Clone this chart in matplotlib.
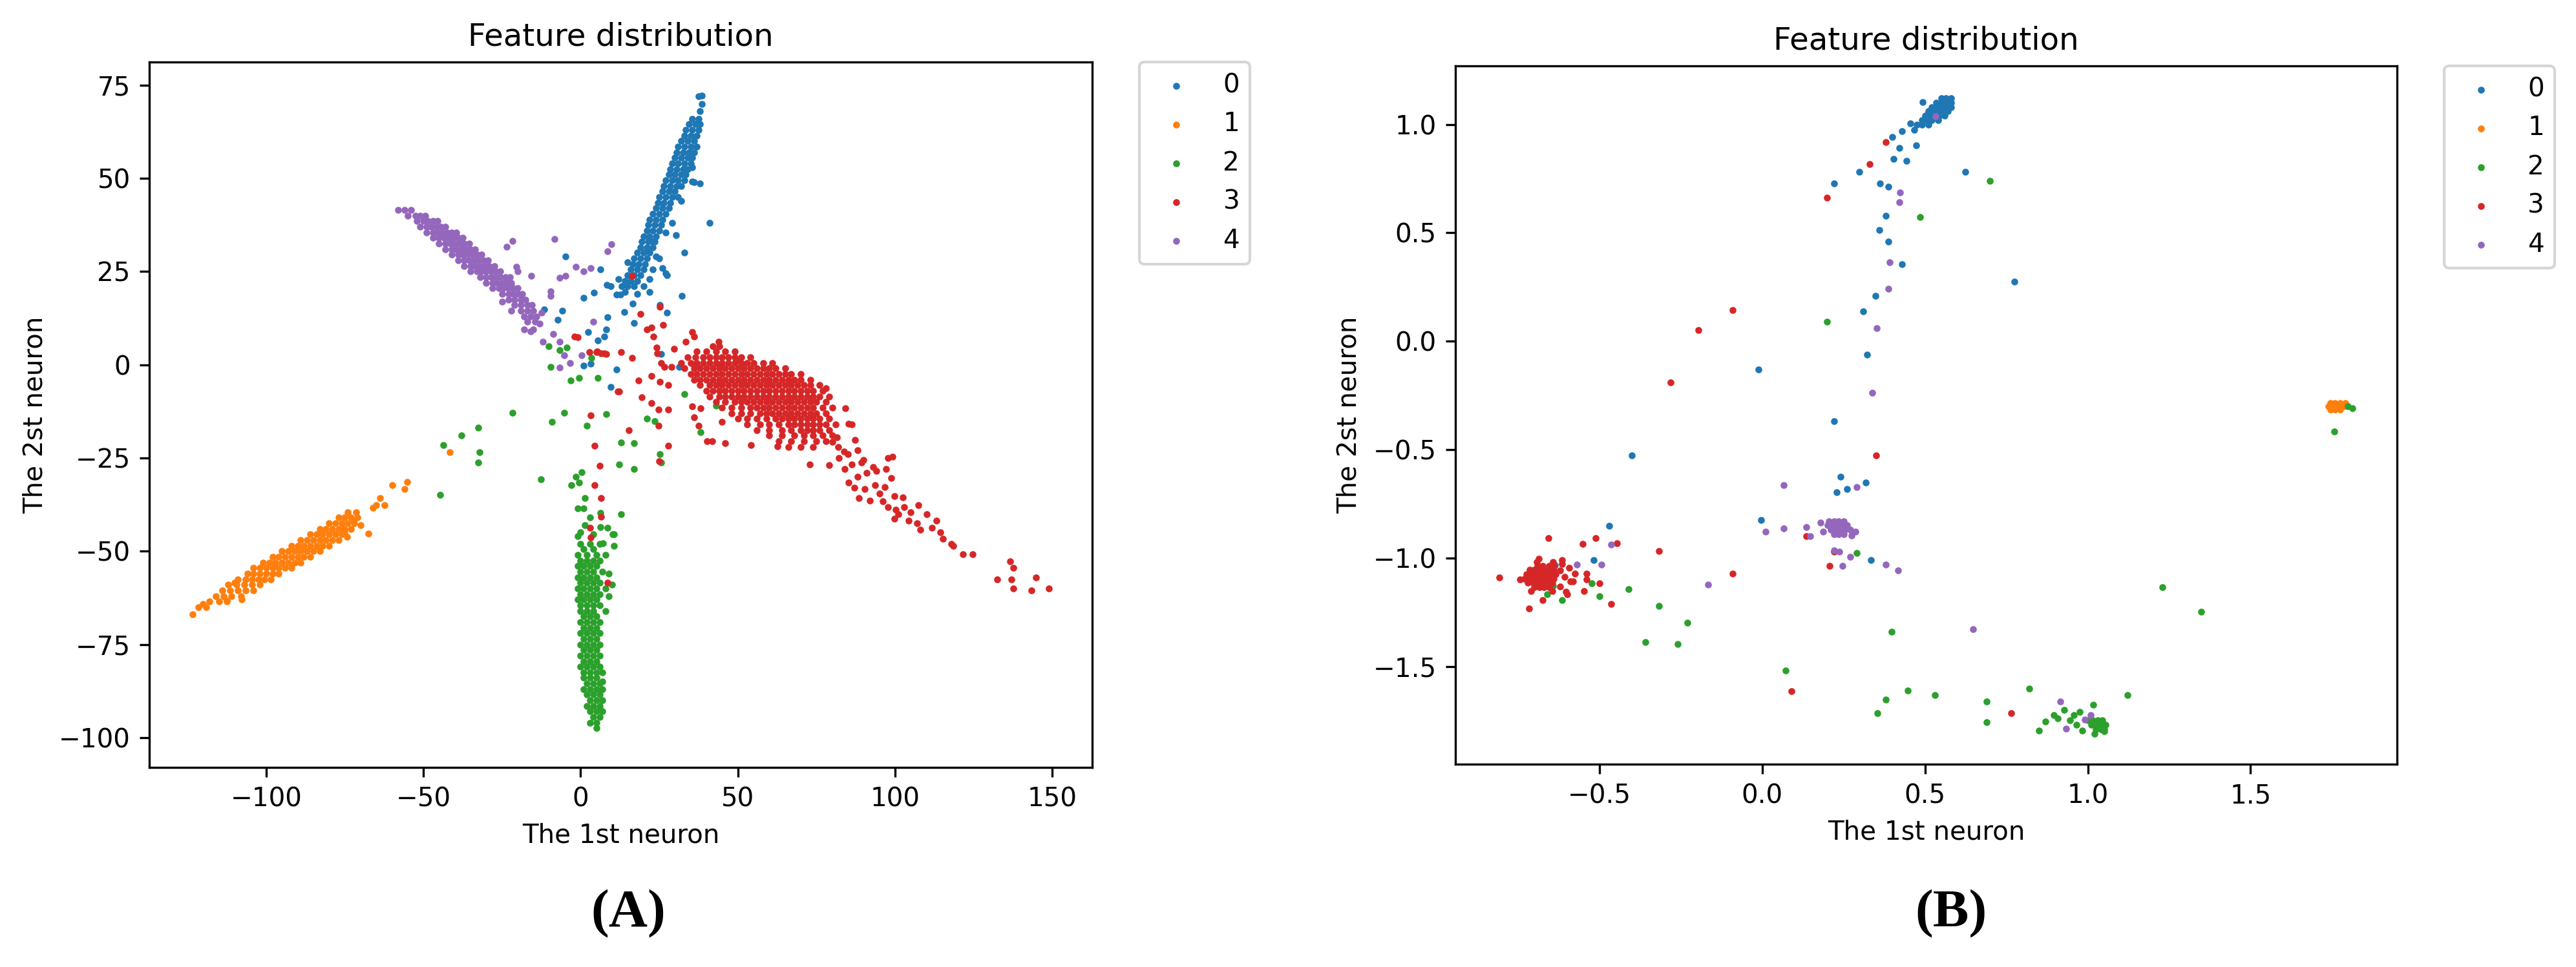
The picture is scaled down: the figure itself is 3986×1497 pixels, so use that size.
import matplotlib
matplotlib.use("Agg")
import matplotlib.pyplot as plt
import numpy as np

labels = ["0", "1", "2", "3", "4"]

# ---------------- panel (A) ----------------
# dense cores are written as rows: (y, [x, x, ...]); loose points as (x, y)
a0_core = [(72, [37.5]), (70, [38.5]), (68, [38]), (66, [35.5, 37.5]),
           (64.5, [34.5, 36.5, 38]), (63, [33.5, 35.5, 37.5]), (61.5, [33, 35, 37]),
           (60, [32, 34, 36]), (58.5, [31, 33, 35, 37]), (57, [30.5, 32.5, 34.5, 36]),
           (55.5, [30, 32, 34, 35.5]), (54, [29, 31, 33, 35]), (52.5, [28.5, 30.5, 32.5, 34]),
           (51, [28, 30, 32, 33.5]), (49.5, [27, 29, 31, 33]), (48, [26.5, 28.5, 30.5, 32]),
           (46.5, [26, 28, 30]), (45, [25, 27, 29, 31]), (43.5, [24.5, 26.5, 28.5]),
           (42, [24, 26, 28]), (40.5, [23, 25, 27]), (39, [22, 24, 26]),
           (37.5, [21.5, 23.5, 25.5]), (36, [21, 23, 25]), (34.5, [20, 22, 24]),
           (33, [19.5, 21.5, 23.5]), (31.5, [19, 21, 23]), (30, [18, 20, 22]),
           (28.5, [17, 19, 21]), (27, [16.5, 18.5, 20.5]), (25.5, [16, 18, 20]),
           (24, [15, 17, 19]), (22.5, [14, 16, 18]), (21, [13, 15, 17])]
a0_extra = [(38.6, 72.1), (36, 49), (38, 48.6), (35.5, 49.2), (41, 38), (30.4, 34.8),
            (27, 24.5), (27.5, 24), (32.2, 18.5), (25.2, 16), (27.5, 13.9), (16.6, 16.4),
            (13.8, 14.2), (16.9, 11.2), (8.6, 12.7), (8.1, 9.4), (7.6, 7.6), (5.5, 6.6),
            (2.4, 8.8), (4.3, 19.4), (0.85, 17.9), (8.4, 21.5), (9.6, 21.1), (11.5, 18.8),
            (12.6, 18.8), (25.5, 2.8), (31.4, -0.6), (11.5, -1.2), (9.6, -6.0), (0.85, -0.2),
            (-4.8, 29.1), (6.2, 25.5), (-11.5, 14.8), (-5.8, 14.5), (-7.2, 12.1), (3.1, 0.2),
            (12, 23), (14, 19.5), (18, 19), (20, 21), (22, 23), (23, 25.5), (15, 27.5),
            (24, 29), (33, 30), (22, 19.5), (26, 26), (25, 28.5), (29, 38), (32, 44),
            (23, 33), (35.5, 53), (27, 35.5)]

a1_core = [(-67, [-123.5]), (-65, [-121.5, -119]), (-63.5, [-118, -115, -112.5]),
           (-62, [-116, -113.5, -111, -108]), (-60.5, [-114, -111.5, -109, -106.5, -104]),
           (-59, [-112, -109.5, -107, -104.5, -102]),
           (-57.5, [-109, -106.5, -104.5, -102.5, -100.5, -98.5]),
           (-56, [-106, -104, -102, -100, -98, -96]),
           (-54.5, [-104, -102, -100, -98, -96, -94, -92]),
           (-53, [-101, -99, -97, -95, -93, -91, -89]),
           (-51.5, [-98, -96, -94, -92, -90, -88, -86]),
           (-50, [-95, -93, -91, -89, -87, -85, -83]),
           (-48.5, [-92, -90, -88, -86, -84, -82, -80]),
           (-47, [-89, -87, -85, -83, -81, -79, -77]),
           (-45.5, [-86, -84, -82, -80, -78, -76]),
           (-44, [-83, -81, -79, -77, -75, -73]),
           (-42.5, [-80, -78, -76, -74, -72]), (-41, [-77, -75, -73, -71]),
           (-39.5, [-74, -71.5])]
a1_extra = [(-41.7, -23.5), (-55.1, -31.4), (-56, -33.4), (-59.9, -32.2), (-62.3, -37.6),
            (-63.7, -35.8), (-65.1, -37.6), (-66.1, -38.3), (-67.5, -45.2), (-69.9, -43.1),
            (-120.2, -64.2), (-112.5, -63.3), (-107.7, -63), (-110.1, -58.5), (-72.3, -41.9),
            (-75.2, -44.9), (-74.2, -46.1)]

a2_core = [(-48, [0, 3, 6]), (-49.5, [1, 4]), (-51, [-1, 2, 5, 8]),
           (-52.5, [0, 2, 4, 6]), (-54, [-1, 1, 3, 5]), (-55.5, [0, 2, 4, 7]),
           (-57, [-1, 1, 3, 5]), (-58.5, [0, 2, 4, 6]), (-60, [-1, 1, 3, 5, 8]),
           (-61.5, [0, 2, 4, 6]), (-63, [-1, 1, 3, 5]), (-64.5, [0, 2, 4, 6]),
           (-66, [0, 2, 4]), (-67.5, [1, 3, 5]), (-69, [0, 2, 4, 6]), (-70.5, [1, 3, 5]),
           (-72, [0, 2, 4, 6]), (-73.5, [1, 3, 5]), (-75, [0, 2, 4, 6]), (-76.5, [1, 3, 5]),
           (-78, [0, 2, 4, 6]), (-79.5, [1, 3, 5]), (-81, [0, 2, 4, 6]), (-82.5, [1, 3, 5, 7]),
           (-84, [1, 3, 5]), (-85.5, [2, 4, 6]), (-87, [1, 3, 5, 7]), (-88.5, [2, 4, 6]),
           (-90, [3, 5, 7]), (-91.5, [2, 4, 6]), (-93, [3, 5, 7]), (-94.5, [4, 6]),
           (-96, [3, 5]), (-97.5, [5])]
a2_extra = [(0.4, -28.8), (-1.5, -30.1), (-2.9, -32.2), (-0.5, -31.6), (1.4, -35.8),
            (-1, -38.5), (0.9, -38.5), (6.2, -39.8), (1.4, -43.1), (-0.1, -44.9), (6.2, -43.6),
            (8.6, -43.7), (10.5, -45.5), (12.8, -40), (7.1, -47.9), (10.7, -48.5), (10.2, -45.5),
            (16.9, -28), (12.2, -26.8), (25.2, -24), (25.7, -26.2), (16.9, -21.1), (12.8, -20.8),
            (8.1, -13.3), (1.9, -16.3), (5.5, -3.6), (3.4, 1.8), (33, -7.8), (43.1, -10.9),
            (38.1, -18.1), (21, -14.5), (23.6, -15.1), (-21.6, -12.9), (-9.1, -15.3),
            (-5.3, -12.9), (-12.7, -30.8), (-38.0, -19), (-32.6, -16.9), (-43.6, -21.6),
            (-32.1, -23.5), (-32.6, -26.2), (-44.7, -34.9), (-9.6, -0.6), (-6.7, 4.0),
            (-4.4, 4.6), (-10.1, 4.9), (-3.1, -4.2), (-0.5, -3.6), (9, -62), (10, -59),
            (8, -66), (7, -85), (9, -56), (3, -41), (-1, -46), (4, -45.5)]

a3_core = [(5, [42, 44]), (3.5, [37, 40, 43, 46, 49]),
           (2, [34, 36.5, 39, 41, 43, 45, 47, 49, 51, 54]),
           (0.5, [32, 35, 37, 39, 41, 43, 45, 47, 49, 51, 53, 55, 58, 61]),
           (-1, [33, 36, 38, 40, 42, 44, 46, 48, 50, 52, 54, 56, 58, 60, 62, 65]),
           (-2.5, [35, 37, 39, 41, 43, 45, 47, 49, 51, 53, 55, 57, 59, 61, 63, 65, 67, 70]),
           (-4, [36, 38, 40, 42, 44, 46, 48, 50, 52, 54, 56, 58, 60, 62, 64, 66, 68, 70, 73]),
           (-5.5, [38, 41, 43, 45, 47, 49, 51, 53, 55, 57, 59, 61, 63, 65, 67, 69, 71, 73, 76]),
           (-7, [40, 42, 44, 46, 48, 50, 52, 54, 56, 58, 60, 62, 64, 66, 68, 70, 72, 74, 77]),
           (-8.5, [41, 44, 46, 48, 50, 52, 54, 56, 58, 60, 62, 64, 66, 68, 70, 72, 74, 76, 79]),
           (-10, [43, 46, 49, 51, 53, 55, 57, 59, 61, 63, 65, 67, 69, 71, 73, 75, 78]),
           (-11.5, [45, 48, 51, 54, 56, 58, 60, 62, 64, 66, 68, 70, 72, 74, 77, 80]),
           (-13, [48, 51, 54, 57, 59, 61, 63, 65, 67, 69, 71, 73, 75, 78]),
           (-14.5, [50, 53, 56, 59, 62, 64, 66, 68, 70, 72, 74, 76, 79]),
           (-16, [53, 57, 60, 63, 66, 68, 70, 72, 74, 76, 78, 81]),
           (-17.5, [56, 60, 64, 67, 70, 72, 74, 76, 79]),
           (-19, [60, 64, 68, 71, 74, 77, 80]), (-20.5, [63, 67, 71, 75, 78]),
           (-22, [66, 70, 74])]
a3_extra = [(16.4, 23.9), (25.2, 15.5), (19, 13.6), (21, 9.4), (22.6, 10), (23.1, 7.6),
            (26.2, 10.6), (29.8, 4.3), (33.5, 6.2), (35.5, 8.8), (36.1, 7.6), (24.2, 4.6),
            (24.4, 3.0), (25.7, 0.4), (16.4, 1.9), (12.8, 3.4), (6.5, 3.0), (8.1, 2.8), (5, 3.4),
            (26.7, -0.6), (28.8, -0.6), (18.5, -4.2), (22.6, -3), (25.2, -4.5), (27.8, -5.4),
            (12.2, -7.2), (19.5, -8.7), (22.6, -10.3), (24.7, -12.1), (27.8, -12.1),
            (24.7, -16.3), (27.8, -21.7), (25, -25.9), (15.3, -17.5), (4.5, -21.7), (6, -27.1),
            (4.5, -32.2), (6.5, -35.8), (2.9, -43.7), (6.5, -40.7), (8.6, -58.5), (44.9, -15.3),
            (45.9, -21.1), (41.8, -20.5), (40.2, -20.5), (36.1, -14.1), (37.6, -16.3),
            (35.5, -11.1), (38.1, -11.7), (-1, 7.4), (-2, 7.6), (2.8, 3.4), (5.2, 3.6),
            (7.6, 3.0), (11.9, -7.2), (3.1, -13.5), (3.1, -46.4), (54.2, -21.6), (62.5, -21.9),
            (72.8, -26.7), (79, -27), (85.3, -15.9), (87.3, -20.1), (84.2, -11.7), (86.3, -16),
            (80.1, -20.7), (81.6, -19.5), (83.7, -23.2), (78, -6.3), (43.8, 6.2), (50, 1.3),
            (82.2, -25), (86.3, -26.8), (89.4, -26.2), (85.3, -31.6), (88.4, -35.8),
            (90.4, -33.4), (93.6, -32.2), (97.7, -25), (99.2, -24.7), (97.2, -28), (98.7, -30.4),
            (96.7, -32.8), (99.8, -35.2), (102.4, -35.6), (97.7, -38.2), (100.3, -38.8),
            (102.9, -38.2), (99.8, -41.3), (104.4, -41.9), (107, -42.5), (108.1, -44.3),
            (107.5, -37.6), (110.1, -40), (113.2, -41.9), (111.7, -43.7), (114.3, -44.9),
            (115.3, -46.7), (117.9, -48.1), (118.4, -48.5), (121.5, -50.9), (124.6, -50.9),
            (136.5, -52.7), (137.6, -54.5), (132.4, -57.5), (137, -57.5), (137.6, -60),
            (144.8, -57), (143.3, -60.6), (149, -60), (91, -29), (94, -28.5), (84, -28),
            (88, -30), (92, -36.5), (95, -34.5), (82, -22), (85, -24), (88, -23), (90, -25.5),
            (93, -27.5), (87, -33), (96, -36.7), (101, -40), (105, -39.5)]

a4_core = [(41.5, [-58, -56, -54]), (40, [-55, -52.5, -51, -49.5]),
           (38.5, [-52, -50, -48.5, -47, -45.5]), (37, [-51, -49, -47.5, -46, -44.5, -43]),
           (35.5, [-49, -47, -45.5, -44, -42.5, -41, -39.5]),
           (34, [-47, -45, -43.5, -42, -40.5, -39, -37.5]),
           (32.5, [-45, -43, -41.5, -40, -38.5, -37, -35.5]),
           (31, [-43, -41, -39.5, -38, -36.5, -35, -33.5]),
           (29.5, [-41, -39, -37.5, -36, -34.5, -33, -31.5]),
           (28, [-39, -37, -35.5, -34, -32.5, -31, -29.5]),
           (26.5, [-37, -35, -33.5, -32, -30.5, -29, -27.5]),
           (25, [-35, -33, -31.5, -30, -28.5, -27, -25.5]),
           (23.5, [-32, -30, -28.5, -27, -25.5, -24, -22.5]),
           (22, [-30, -28, -26.5, -25, -23.5, -22]), (20.5, [-28, -26, -24.5, -23, -21.5, -20]),
           (19, [-25, -23, -21.5, -20, -18.5]), (17.5, [-23, -21, -19, -17.5]),
           (16, [-21, -19, -17, -15.5]), (14.5, [-19, -17, -15]), (13, [-18, -16, -14]),
           (11.5, [-17, -14.5]), (9.5, [-18, -15])]
a4_extra = [(-23.5, 31.7), (-21.6, 33.2), (-20.4, 26.3), (-20.1, 25.1), (-15.8, 23.9),
            (-8.4, 33.8), (-9.6, 19.7), (-9.6, 18.5), (-6.7, 23.3), (-4.8, 23.9), (-1.5, 26.3),
            (0.9, 25.1), (3.3, 25.9), (4.1, 11.5), (8.6, 30.5), (9.7, 32.3), (-12, 6.2),
            (-8.7, 8.2), (-6.7, 6.2), (-5.3, 2.5), (-6.7, -0.8), (-3.4, 0.4), (0.4, 2.5),
            (-13, 11), (-16, 9), (-12.5, 14), (-22, 14.5), (-25, 17)]

# ---------------- panel (B) ----------------
b0_core = [(1.12, [0.55, 0.565, 0.58]), (1.10, [0.535, 0.55, 0.565, 0.58]),
           (1.08, [0.52, 0.535, 0.55, 0.565, 0.58]), (1.06, [0.51, 0.525, 0.54, 0.555, 0.57]),
           (1.04, [0.50, 0.515, 0.53, 0.545, 0.56]), (1.02, [0.49, 0.505, 0.52, 0.54]),
           (1.00, [0.475, 0.49, 0.51])]
b0_extra = [(0.493, 1.104), (0.455, 1.004), (0.467, 0.976), (0.400, 0.941), (0.430, 0.970),
            (0.422, 0.890), (0.473, 0.904), (0.404, 0.842), (0.442, 0.833), (0.362, 0.728),
            (0.387, 0.714), (0.299, 0.782), (0.221, 0.728), (0.623, 0.782), (0.379, 0.578),
            (0.359, 0.512), (0.387, 0.458), (0.430, 0.356), (0.774, 0.276), (0.347, 0.208),
            (0.309, 0.137), (0.322, -0.062), (-0.011, -0.130), (0.221, -0.369),
            (-0.401, -0.526), (0.241, -0.625), (0.229, -0.696), (0.261, -0.682),
            (0.317, -0.653), (-0.004, -0.826), (-0.471, -0.853), (-0.518, -1.010),
            (0.334, -1.009), (-0.636, -1.033)]

b1_core = [(-0.285, [1.745, 1.76, 1.775, 1.79]), (-0.30, [1.74, 1.755, 1.77, 1.785]),
           (-0.315, [1.745, 1.76, 1.775])]
b1_extra = []

b2_core = [(-1.75, [1.00, 1.015, 1.03, 1.045]), (-1.77, [1.01, 1.025, 1.04, 1.055]),
           (-1.79, [1.025, 1.04, 1.05])]
b2_extra = [(-0.661, -1.169), (-0.643, -1.128), (-0.616, -1.195), (-0.523, -1.118),
            (-0.500, -1.177), (-0.411, -1.144), (-0.318, -1.222), (-0.230, -1.299),
            (-0.360, -1.388), (-0.260, -1.396), (0.072, -1.518), (0.699, 0.740), (0.485, 0.572),
            (0.198, 0.089), (1.758, -0.417), (1.813, -0.309), (1.798, -0.300), (1.230, -1.134),
            (1.348, -1.247), (0.397, -1.341), (0.379, -1.654), (0.447, -1.611), (0.530, -1.631),
            (0.354, -1.717), (0.689, -1.663), (0.689, -1.759), (0.820, -1.603), (1.121, -1.631),
            (0.291, -0.978), (0.850, -1.796), (0.870, -1.754), (0.895, -1.725), (0.908, -1.740),
            (0.928, -1.702), (0.946, -1.748), (0.966, -1.768), (0.976, -1.711), (1.016, -1.677),
            (0.983, -1.796), (1.021, -1.810), (0.958, -1.725), (1.05, -1.80)]

b3_core = [(-1.035, [-0.69, -0.675, -0.655, -0.64]),
           (-1.055, [-0.715, -0.70, -0.685, -0.67, -0.655, -0.64]),
           (-1.075, [-0.725, -0.71, -0.695, -0.68, -0.665, -0.65, -0.635]),
           (-1.095, [-0.73, -0.715, -0.70, -0.685, -0.67, -0.655, -0.64]),
           (-1.115, [-0.72, -0.705, -0.69, -0.675, -0.66, -0.645]),
           (-1.135, [-0.70, -0.685, -0.67, -0.655])]
b3_extra = [(-0.808, -1.091), (-0.745, -1.100), (-0.657, -0.907), (-0.687, -1.003),
            (-0.693, -1.020), (-0.643, -1.018), (-0.615, -1.010), (-0.616, -1.028),
            (-0.594, -1.046), (-0.621, -1.056), (-0.576, -1.073), (-0.540, -1.073),
            (-0.540, -1.100), (-0.608, -1.088), (-0.590, -1.108), (-0.581, -1.108),
            (-0.622, -1.133), (-0.604, -1.157), (-0.599, -1.169), (-0.645, -1.152),
            (-0.711, -1.152), (-0.675, -1.195), (-0.716, -1.232), (-0.548, -1.152),
            (-0.500, -1.118), (-0.552, -0.934), (-0.512, -0.907), (-0.447, -0.933),
            (-0.465, -1.212), (-0.318, -0.969), (-0.092, -1.073), (0.089, -1.614),
            (0.135, -0.899), (0.379, 0.919), (0.329, 0.816), (0.198, 0.663), (-0.091, 0.145),
            (-0.197, 0.052), (-0.282, -0.190), (0.349, -0.526), (0.221, -0.972),
            (0.206, -1.037), (0.764, -1.717)]

b4_core = [(-0.83, [0.205, 0.22, 0.235, 0.25]), (-0.85, [0.20, 0.215, 0.23, 0.245, 0.26]),
           (-0.87, [0.21, 0.225, 0.24, 0.255, 0.27]), (-0.89, [0.22, 0.235, 0.25])]
b4_extra = [(0.424, 0.685), (0.422, 0.640), (0.392, 0.364), (0.387, 0.242), (0.352, 0.060),
            (0.337, -0.238), (0.065, -0.665), (0.010, -0.878), (0.065, -0.864), (0.135, -0.858),
            (0.178, -0.838), (0.186, -0.878), (0.286, -0.878), (0.274, -0.895), (0.291, -0.674),
            (0.236, -0.972), (0.221, -0.966), (0.271, -0.995), (0.246, -1.037), (0.379, -1.029),
            (0.417, -1.057), (-0.167, -1.122), (-0.464, -0.938), (-0.494, -1.029),
            (-0.569, -1.029), (0.648, -1.327), (0.915, -1.663), (0.933, -1.788), (0.991, -1.745),
            (1.008, -1.725), (0.533, 1.038), (0.147, -0.899)]


def cloud(core, extra):
    pts = [(x, y) for y, xs in core for x in xs] + list(extra)
    arr = np.array(pts, dtype=float)
    return arr[:, 0], arr[:, 1]


def draw_panel(ax, groups, xlim, ylim, xticks, yticks):
    for lab, (core, extra) in zip(labels, groups):
        x, y = cloud(core, extra)
        ax.scatter(x, y, s=6.5, linewidths=0, label=lab)
    ax.set_xlim(*xlim)
    ax.set_ylim(*ylim)
    ax.set_xticks(xticks)
    ax.set_yticks(yticks)
    ax.tick_params(labelsize=9.7)
    ax.set_title("Feature distribution", fontsize=11.6)
    ax.set_xlabel("The 1st neuron", fontsize=9.7)
    ax.set_ylabel("The 2st neuron", fontsize=9.7)
    ax.legend(bbox_to_anchor=(1.05, 1), loc="upper left", borderaxespad=0, fontsize=9.7)


fig = plt.figure(figsize=(3987 / 300, 1497 / 300), dpi=300)
axA = fig.add_axes([0.0579, 0.2064, 0.3660, 0.7295])
axB = fig.add_axes([0.5648, 0.2098, 0.3655, 0.7221])

draw_panel(axA,
           [(a0_core, a0_extra), (a1_core, a1_extra), (a2_core, a2_extra),
            (a3_core, a3_extra), (a4_core, a4_extra)],
           (-137.2, 162.7), (-108.0, 81.2),
           [-100, -50, 0, 50, 100, 150], [-100, -75, -50, -25, 0, 25, 50, 75])
draw_panel(axB,
           [(b0_core, b0_extra), (b1_core, b1_extra), (b2_core, b2_extra),
            (b3_core, b3_extra), (b4_core, b4_extra)],
           (-0.943, 1.95), (-1.951, 1.27),
           [-0.5, 0.0, 0.5, 1.0, 1.5], [-1.5, -1.0, -0.5, 0.0, 0.5, 1.0])

fig.text(0.2438, 0.0548, "(A)", ha="center", va="center", fontsize=20,
         family="Liberation Serif", weight="bold")
fig.text(0.7572, 0.0548, "(B)", ha="center", va="center", fontsize=20,
         family="Liberation Serif", weight="bold")

fig.savefig("out.png", dpi=300)
